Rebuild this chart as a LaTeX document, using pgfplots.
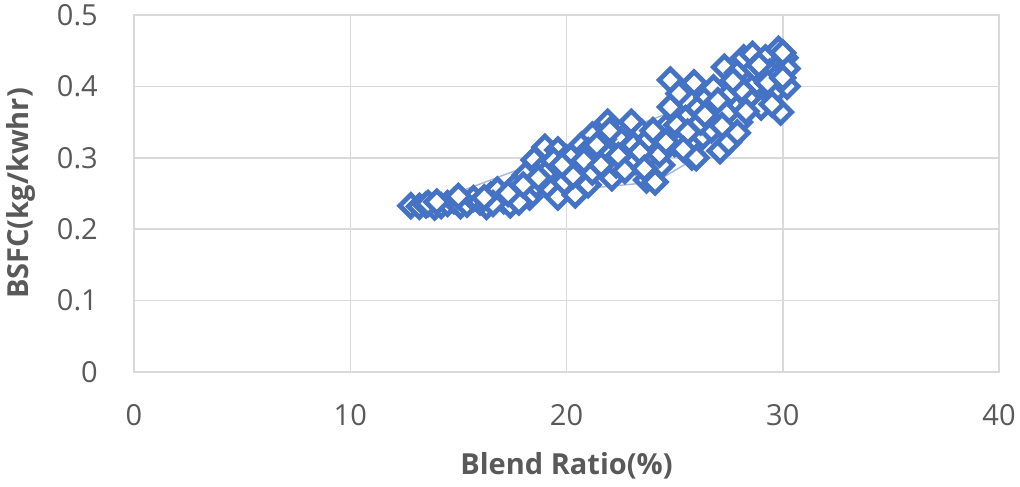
\documentclass[border=0pt]{standalone}
\usepackage{pgfplots}
\pgfplotsset{compat=1.18}
\usepackage{fontspec}
\setmainfont{Open Sans}
\definecolor{mk}{HTML}{4472C4}
\definecolor{gr}{HTML}{D9D9D9}
\definecolor{tx}{HTML}{595959}
\begin{document}
\begin{tikzpicture}
\path[use as bounding box] (0,0) rectangle (1020pt,487pt);
\begin{axis}[
  at={(134pt,115pt)}, anchor=south west,
  scale only axis, width=865pt, height=357pt,
  xmin=0, xmax=40, ymin=0, ymax=0.5,
  xtick={0,10,20,30,40}, ytick={0,0.1,0.2,0.3,0.4,0.5},
  yticklabels={0,0.1,0.2,0.3,0.4,0.5},
  xticklabels={0,10,20,30,40},
  major tick length=0pt,
  grid=major,
  major grid style={color=gr, line width=1.5pt},
  axis line style={color=gr, line width=1.5pt},
  ticklabel style={font=\fontsize{29}{34}\selectfont, text=tx, inner sep=0pt},
  xticklabel style={anchor=center, yshift=-43pt},
  yticklabel style={anchor=east, xshift=-36pt},
  xlabel={Blend Ratio(\%)},
  ylabel={BSFC(kg/kwhr)},
  label style={font=\fontsize{29}{34}\selectfont\bfseries, text=tx, inner sep=0pt},
  xlabel style={at={(axis description cs:0.5,0)}, anchor=center, yshift=-94pt},
  ylabel style={at={(axis description cs:0,0.5)}, anchor=center, yshift=113pt},
  clip=false,
]
\addplot[color=mk!50, line width=1.4pt, mark=square*,
  mark size=7.8pt,
  every mark/.append style={rotate=45, solid, draw=mk, fill=white, line width=4.8pt}]
coordinates {
(12.8,0.233) (13.2,0.232) (13.5,0.234) (13.9,0.231) (14.2,0.233)
(14.5,0.236) (14.8,0.240) (15.1,0.233) (15.4,0.235) (15.7,0.243)
(16.0,0.238) (16.3,0.232) (16.5,0.248) (16.8,0.255) (17.1,0.240)
(17.4,0.234) (17.6,0.260) (17.9,0.250) (18.1,0.276) (18.3,0.245)
(18.5,0.297) (18.6,0.262) (18.9,0.285) (19.0,0.315) (19.1,0.280)
(19.3,0.255) (19.6,0.245) (19.6,0.311) (19.9,0.266) (20.0,0.300)
(20.2,0.301) (20.4,0.248) (20.6,0.285) (20.7,0.318) (21.0,0.262)
(21.2,0.332) (21.2,0.280) (21.5,0.300) (21.8,0.307) (21.9,0.350)
(22.1,0.272) (22.3,0.290) (22.5,0.325) (22.8,0.311) (23.0,0.350)
(23.2,0.295) (23.5,0.335) (23.7,0.269) (23.9,0.301) (24.2,0.315)
(24.4,0.290) (24.6,0.343) (24.8,0.409) (24.8,0.371) (25.0,0.320)
(25.3,0.329) (25.5,0.355) (25.8,0.301) (25.9,0.405) (26.1,0.370)
(26.3,0.330) (26.5,0.385) (26.7,0.339) (26.9,0.364) (27.1,0.310)
(27.3,0.427) (27.5,0.322) (27.6,0.392) (27.9,0.419) (28.0,0.350)
(28.2,0.440) (28.4,0.384) (28.6,0.445) (28.8,0.405) (29.0,0.371)
(29.2,0.440) (29.4,0.420) (29.6,0.392) (29.8,0.452) (29.9,0.419)
(29.9,0.364) (30.1,0.440) (30.2,0.400) (30.2,0.425)
(13.6,0.236) (15.0,0.246) (16.6,0.236) (17.8,0.238) (18.7,0.272)
(19.4,0.296) (20.3,0.275) (21.0,0.310) (21.7,0.326) (22.4,0.303)
(23.1,0.318) (23.8,0.326) (24.3,0.305) (25.1,0.346) (25.7,0.318)
(26.2,0.350) (26.8,0.398) (27.4,0.362) (28.1,0.395) (28.7,0.425)
(29.3,0.405) (30.0,0.447) (27.9,0.335) (26.0,0.300) (24.1,0.266)
(14.0,0.238) (16.2,0.244) (17.3,0.250) (18.0,0.262) (19.8,0.290)
(20.8,0.296) (21.4,0.318) (22.0,0.338) (22.7,0.282) (23.4,0.308)
(24.0,0.338) (24.6,0.322) (25.2,0.390) (25.6,0.336) (26.4,0.360)
(27.0,0.380) (27.7,0.408) (28.3,0.365) (28.9,0.430) (29.5,0.375)
(30.0,0.412) (27.2,0.345) (25.4,0.312) (23.6,0.285) (21.6,0.290)
}; 
\end{axis}
\end{tikzpicture}
\end{document}
